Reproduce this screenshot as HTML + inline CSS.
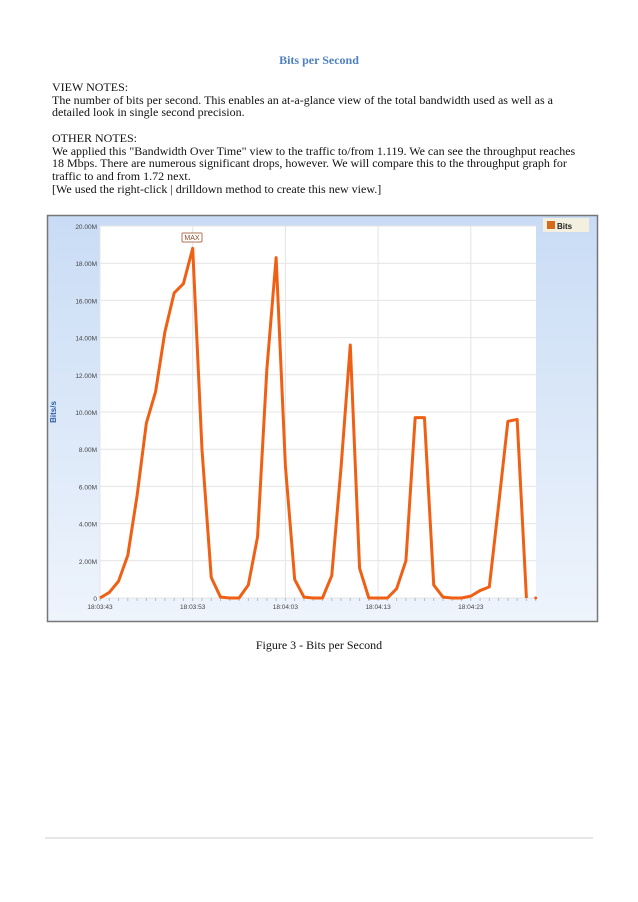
<!DOCTYPE html>
<html><head><meta charset="utf-8"><style>
body{margin:0;width:638px;height:902px;background:#fff;position:relative;font-family:"Liberation Serif",serif;overflow:hidden}
.t{position:absolute;left:52px;font-size:12px;color:#111;line-height:12.7px;white-space:nowrap}
</style></head><body>
<div style="position:absolute;top:53px;left:0;width:638px;text-align:center;color:#4f81bd;font-weight:bold;font-size:12px">Bits per Second</div>
<div class="t" style="top:81px">VIEW NOTES:<br>The number of bits per second. This enables an at-a-glance view of the total bandwidth used as well as a<br>detailed look in single second precision.</div>
<div class="t" style="top:132px">OTHER NOTES:<br>We applied this "Bandwidth Over Time" view to the traffic to/from 1.119. We can see the throughput reaches<br>18 Mbps. There are numerous significant drops, however. We will compare this to the throughput graph for<br>traffic to and from 1.72 next.<br>[We used the right-click | drilldown method to create this new view.]</div>
<svg id="chart" width="638" height="902" style="position:absolute;left:0;top:0;pointer-events:none" font-family="Liberation Sans, sans-serif">
<defs><linearGradient id="bg" x1="0" y1="0" x2="0" y2="1"><stop offset="0" stop-color="#c9dcf5"/><stop offset="1" stop-color="#eef4fc"/></linearGradient></defs>
<rect x="47.5" y="215.5" width="550" height="406" fill="url(#bg)" stroke="#777" stroke-width="1.5"/>
<rect x="100" y="226" width="436" height="372" fill="#fff"/>
<g id="grid"></g><g id="line"></g>
<rect x="543" y="218" width="46" height="14" fill="#f4f0e0"/>
<rect x="547" y="221" width="8" height="8" fill="#d46a1a"/>
<text x="557" y="229" font-size="8" font-weight="bold" fill="#222">Bits</text>
<text transform="translate(56,412) rotate(-90)" text-anchor="middle" font-size="8" font-weight="bold" fill="#2d5ea8">Bits/s</text>
<rect x="182" y="233" width="20" height="9" fill="#fff" stroke="#b07050" rx="1"/>
<text x="192" y="240" text-anchor="middle" font-size="7" fill="#8a4a2a">MAX</text>
<line x1="45" y1="838" x2="593" y2="838" stroke="#ccc"/>
</svg>
<div style="position:absolute;top:638px;left:0;width:638px;text-align:center;font-size:12px;color:#111">Figure 3 - Bits per Second</div>
<script>
const values=[0,0.3,0.9,2.3,5.5,9.4,11.1,14.3,16.4,16.9,18.8,8.0,1.1,0.05,0,0,0.7,3.3,12.3,18.3,7.1,1.0,0.05,0,0,1.2,7.0,13.6,1.6,0,0,0,0.5,2.0,9.7,9.7,0.7,0.05,0,0,0.1,0.4,0.6,5.0,9.5,9.6,0,0];
const yTicks=[0,2,4,6,8,10,12,14,16,18,20];
const yTickLabels=["0","2.00M","4.00M","6.00M","8.00M","10.00M","12.00M","14.00M","16.00M","18.00M","20.00M"];
const xTickSeconds=[0,10,20,30,40];
const xTickLabels=["18:03:43","18:03:53","18:04:03","18:04:13","18:04:23"];
const NS='http://www.w3.org/2000/svg';
const X=s=>100+s*9.27, Y=v=>598-v*18.6;
const grid=document.getElementById('grid'), lineG=document.getElementById('line');
function mk(t,a,p){const e=document.createElementNS(NS,t);for(const k in a)e.setAttribute(k,a[k]);p.appendChild(e);return e;}
yTicks.forEach((v,i)=>{
 const l=mk('line',{x1:100,x2:536,y1:Y(v),y2:Y(v),stroke:'#e4e4e4'},grid);
 
 
 const t=mk('text',{x:97,y:Y(v)+3,'text-anchor':'end','font-size':6.5,fill:'#444'},grid);
 t.textContent=yTickLabels[i];
 
 
});
xTickSeconds.forEach((s,i)=>{
 const l=mk('line',{x1:X(s),x2:X(s),y1:226,y2:598,stroke:'#e4e4e4'},grid);
 
 
 const t=mk('text',{x:X(s),y:609,'text-anchor':'middle','font-size':6.5,fill:'#444'},grid);
 t.textContent=xTickLabels[i];
 
 
});
for(let s=0;s<values.length;s++){const k=mk('line',{x1:X(s),x2:X(s),y1:598,y2:601,stroke:'#bbb'},grid);
 
 }
const pts=values.slice(0,47).map((v,i)=>X(i)+','+Y(v)).join(' ');
const pl=mk('polyline',{points:pts,fill:'none',stroke:'#f06014','stroke-width':3,'stroke-linejoin':'round'},lineG);


const d=mk('circle',{cx:X(47),cy:Y(values[47]),r:1.5,fill:'#f06014'},lineG);


</script>
</body></html>
